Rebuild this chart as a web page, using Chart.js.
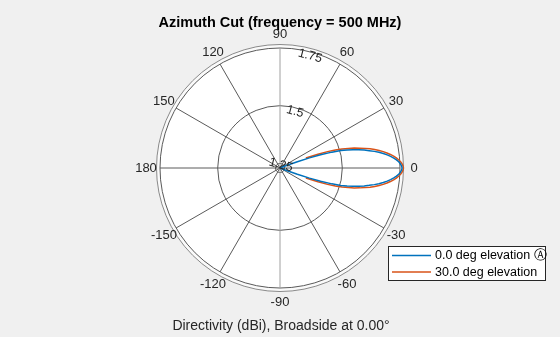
<!DOCTYPE html>
<html>
<head>
<meta charset="utf-8">
<script src="https://cdn.jsdelivr.net/npm/chart.js@4.4.1/dist/chart.umd.min.js"></script>
<style>
  html, body { margin: 0; padding: 0; background: #f0f0f0; }
  #wrap { width: 560px; height: 337px; }
</style>
</head>
<body>
<div id="wrap"><canvas id="c" width="560" height="337"></canvas></div>
<script>
// ---------------- data ----------------
const titleText = 'Azimuth Cut (frequency = 500 MHz)';
const captionText = 'Directivity (dBi), Broadside at 0.00\u00B0';
const seriesNames = ['0.0 deg elevation \u24B6', '30.0 deg elevation'];
const seriesColors = ['#0072BD', '#D95319'];

// azimuth angles (deg) of the main lobe
const lobeAngles = [-22,-21,-20,-19,-18,-17,-16,-15,-14,-13,-12,-11,-10,-9,-8,-7,-6,-5,-4,-3,-2,-1,
                    0,1,2,3,4,5,6,7,8,9,10,11,12,13,14,15,16,17,18,19,20,21,22];
// directivity (dBi), 0 deg elevation
const elev0Values = [1.23,1.26,1.31,1.365,1.415,1.465,1.504,1.531,1.556,1.580,1.603,1.624,1.645,1.664,1.682,1.698,1.712,1.725,1.736,1.745,1.752,1.757,
                     1.759,1.757,1.752,1.745,1.736,1.725,1.712,1.698,1.682,1.664,1.645,1.624,1.603,1.580,1.556,1.531,1.504,1.465,1.415,1.365,1.31,1.26,1.23];
// directivity (dBi), 30 deg elevation (below the radial limit -> not drawn)
const elev30Values = [null,1.35,1.405,1.448,1.482,1.511,1.538,1.563,1.586,1.608,1.629,1.648,1.666,1.683,1.698,1.712,1.725,1.736,1.745,1.753,1.759,1.763,
                      1.765,1.763,1.759,1.753,1.745,1.736,1.725,1.712,1.698,1.683,1.666,1.648,1.629,1.608,1.586,1.563,1.538,1.511,1.482,1.448,1.405,1.35,null];

const radialTicks = [1.25, 1.5, 1.75];
const radialMin = 1.23;
const radialMax = 1.75;
const angleTickLabels = [90, 60, 30, 0, -30, -60, -90, -120, -150, 180, 150, 120];

// ---------------- build table for the radar (1 deg per spoke, index 0 = 90 deg, clockwise) ----------------
function normAngle(a) { let x = a; while (x <= -180) x += 360; while (x > 180) x -= 360; return x; }
const spokeAngles = [];
for (let i = 0; i < 360; i++) spokeAngles.push(normAngle(90 - i));
function spread(values) {
  const out = new Array(360).fill(null);
  lobeAngles.forEach((a, k) => {
    const idx = spokeAngles.indexOf(normAngle(a));
    out[idx] = values[k];
  });
  return out;
}

const FONT = '"Liberation Sans", Arial, Helvetica, sans-serif';

const decor = {
  id: 'decor',
  beforeDraw(chart) {
    const ctx = chart.ctx;
    const s = chart.scales.r;
    ctx.save();
    ctx.fillStyle = '#f0f0f0';
    ctx.fillRect(0, 0, chart.width, chart.height);
    const R = s.drawingArea;
    ctx.beginPath();
    ctx.arc(s.xCenter, s.yCenter, R + 3.5, 0, Math.PI * 2);
    ctx.fillStyle = '#fafafa';
    ctx.fill();
    ctx.beginPath();
    ctx.arc(s.xCenter, s.yCenter, R, 0, Math.PI * 2);
    ctx.fillStyle = '#ffffff';
    ctx.fill();
    ctx.restore();
  },
  beforeDatasetsDraw(chart) {
    const ctx = chart.ctx;
    const s = chart.scales.r;
    const R = s.drawingArea;
    ctx.save();
    ctx.strokeStyle = '#8a8a8a';
    ctx.lineWidth = 1;
    ctx.beginPath();
    ctx.arc(s.xCenter, s.yCenter, R + 3.5, 0, Math.PI * 2);
    ctx.stroke();
    ctx.restore();
  },
  afterDraw(chart) {
    const ctx = chart.ctx;
    const s = chart.scales.r;
    ctx.save();
    // angle labels
    ctx.font = '13px ' + FONT;
    ctx.fillStyle = '#262626';
    ctx.textAlign = 'center';
    ctx.textBaseline = 'middle';
    angleTickLabels.forEach(a => {
      const idx = spokeAngles.indexOf(a);
      const p = s.getPointPosition(idx, s.drawingArea + 14);
      ctx.fillText(String(a), p.x, p.y);
    });
    // radial tick labels at 75 deg, rotated
    ctx.font = '12.5px ' + FONT;
    const idx75 = spokeAngles.indexOf(75);
    radialTicks.forEach(v => {
      const d = Math.max(s.getDistanceFromCenterForValue(v) - 4, 3);
      const p = s.getPointPosition(idx75, d);
      ctx.save();
      ctx.translate(p.x, p.y);
      ctx.rotate(15 * Math.PI / 180);
      ctx.fillText(String(v), 0, 0);
      ctx.restore();
    });
    // title
    ctx.font = 'bold 14.5px ' + FONT;
    ctx.fillStyle = '#000000';
    ctx.fillText(titleText, 280, 23);
    // caption
    ctx.font = '14px ' + FONT;
    ctx.fillStyle = '#262626';
    ctx.fillText(captionText, 281, 326);
    // legend
    const lx = 388.5, ly = 246.5, lw = 157, lh = 34;
    ctx.fillStyle = '#ffffff';
    ctx.fillRect(lx, ly, lw, lh);
    ctx.strokeStyle = '#262626';
    ctx.lineWidth = 1;
    ctx.strokeRect(lx, ly, lw, lh);
    ctx.textAlign = 'left';
    ctx.font = '12.5px ' + FONT;
    seriesNames.forEach((n, k) => {
      const y = 255.5 + k * 16.5;
      ctx.strokeStyle = seriesColors[k];
      ctx.lineWidth = 1.3;
      ctx.beginPath();
      ctx.moveTo(392, y);
      ctx.lineTo(431, y);
      ctx.stroke();
      ctx.fillStyle = '#000000';
      ctx.fillText(n, 435, y + 0.5);
    });
    ctx.restore();
  }
};

new Chart(document.getElementById('c'), {
  type: 'radar',
  data: {
    labels: spokeAngles.map(String),
    datasets: [
      { label: seriesNames[0], data: spread(elev0Values), borderColor: seriesColors[0], borderWidth: 1.5,
        pointRadius: 0, pointHoverRadius: 0, fill: false, tension: 0, spanGaps: false },
      { label: seriesNames[1], data: spread(elev30Values), borderColor: seriesColors[1], borderWidth: 1.5,
        pointRadius: 0, pointHoverRadius: 0, fill: false, tension: 0, spanGaps: false }
    ]
  },
  options: {
    responsive: false,
    animation: false,
    devicePixelRatio: 1,
    layout: { padding: { top: 48, bottom: 49, left: 0, right: 0 } },
    plugins: { legend: { display: false }, title: { display: false }, tooltip: { enabled: false } },
    elements: { line: { borderJoinStyle: 'round' } },
    scales: {
      r: {
        min: radialMin,
        max: radialMax,
        startAngle: 0,
        afterBuildTicks: sc => { sc.ticks = [radialMin].concat(radialTicks).map(v => ({ value: v })); },
        ticks: { display: false },
        pointLabels: { display: false },
        grid: { circular: true, color: '#5a5a5a', lineWidth: 1 },
        angleLines: {
          display: true,
          color: ctx => (spokeAngles[ctx.index] === 90 || spokeAngles[ctx.index] === -90) ? '#a0a0a0' : '#5a5a5a',
          lineWidth: ctx => (spokeAngles[ctx.index] % 30 === 0) ? 1 : 0
        }
      }
    }
  },
  plugins: [decor]
});
</script>
</body>
</html>
